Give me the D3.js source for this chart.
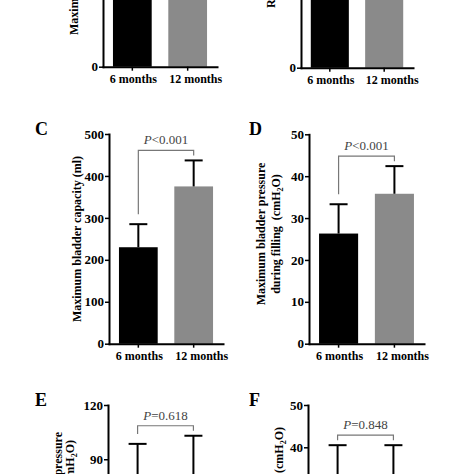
<!DOCTYPE html>
<html>
<head>
<meta charset="utf-8">
<script src="https://cdn.jsdelivr.net/npm/d3@7"></script>
<style>
body { margin: 0; background: #fff; }
svg text { font-family: "Liberation Serif", "Times New Roman", serif; }
</style>
</head>
<body>
<div id="chart"></div>
<script>
var groups = ["6 months", "12 months"];
var barColors = ["#000000", "#8a8a8a"];

// A and B: tops are cut off in the figure
var flowRateMean = [18, 19];
var flowRateSd = [5, 5];
var residualMean = [35, 37];
var residualSd = [10, 10];
// C: maximum bladder capacity (ml)
var capacityMean = [230, 375];
var capacitySd = [55, 62];
// D: maximum bladder pressure during filling
var fillPressureMean = [26.3, 35.8];
var fillPressureSd = [7.0, 6.6];
// E and F: bars sit below the crop, only the error caps show
var voidPressureMean = [72, 74];
var voidPressureSd = [26.5, 29];
var flowPressureMean = [29, 29];
var flowPressureSd = [11.5, 11.5];

var ticksA = [0, 10, 20, 30];
var ticksB = [0, 20, 40, 60];
var ticksC = [0, 100, 200, 300, 400, 500];
var ticksD = [0, 10, 20, 30, 40, 50];
var ticksE = [0, 30, 60, 90, 120];
var ticksF = [0, 10, 20, 30, 40, 50];

var pLabels = [null, null, "<0.001", "<0.001", "=0.618", "=0.848"];

// panel frames (pixel layout of the figure)
var panels = [
    { id: "A", mean: flowRateMean, sd: flowRateSd, ticks: ticksA, x0: 103, x1: 217, yBase: 66.7, yTop: -148.4,
      label: ["Maximum flow rate (ml/s)"], lx: [78], ly: [35], anchor: "start" },
    { id: "B", mean: residualMean, sd: residualSd, ticks: ticksB, x0: 301, x1: 413, yBase: 67.7, yTop: -150.4,
      label: ["Residual urine volume (ml)"], lx: [275], ly: [8], anchor: "start" },
    { id: "C", mean: capacityMean, sd: capacitySd, ticks: ticksC, x0: 109, x1: 223, yBase: 343.7, yTop: 134,
      label: ["Maximum bladder capacity (ml)"], lx: [81], ly: [239], anchor: "middle" },
    { id: "D", mean: fillPressureMean, sd: fillPressureSd, ticks: ticksD, x0: 309, x1: 424, yBase: 343.7, yTop: 134.3,
      label: ["Maximum bladder pressure", "during filling\u00a0 (cmH_2O)"], lx: [265, 280], ly: [234, 234], anchor: "middle" },
    { id: "E", mean: voidPressureMean, sd: voidPressureSd, ticks: ticksE, x0: 108, x1: 223, yBase: 622, yTop: 405,
      label: ["Maximum detrusor pressure", "during voiding (cmH_2O)"], lx: [62, 74], ly: [432, 440], anchor: "end" },
    { id: "F", mean: flowPressureMean, sd: flowPressureSd, ticks: ticksF, x0: 308, x1: 423, yBase: 616.5, yTop: 405,
      label: ["Detrusor pressure at maximum flow (cmH_2O)"], lx: [283], ly: [427], anchor: "end" }
];
var letterX = [35, 249];
var xLabelShift = [1, 8];

var svg = d3.select("#chart").append("svg")
    .attr("width", 474)
    .attr("height", 474)
    .style("display", "block");

svg.append("rect").attr("width", 474).attr("height", 474).attr("fill", "#fff");

// writes text with "_2" turned into a subscript 2
function addRich(sel, str) {
    var parts = str.split("_2");
    parts.forEach(function (p, i) {
        if (i > 0) {
            sel.append("tspan").attr("font-size", "8px").attr("dy", 3).text("2");
            sel.append("tspan").attr("dy", -3).text(p);
        } else {
            sel.append("tspan").text(p);
        }
    });
}

panels.forEach(function (p, pi) {
    var g = svg.append("g");
    var x = d3.scaleBand()
        .domain(groups)
        .range([p.x0, p.x1])
        .paddingInner(0.3)
        .paddingOuter(0.18);
    var y = d3.scaleLinear()
        .domain([0, d3.max(p.ticks)])
        .range([p.yBase, p.yTop]);

    // bars
    g.selectAll(".bar")
        .data(groups)
        .enter().append("rect")
        .attr("x", function (d) { return x(d); })
        .attr("width", x.bandwidth())
        .attr("y", function (d, i) { return y(p.mean[i]); })
        .attr("height", function (d, i) { return p.yBase - y(p.mean[i]); })
        .attr("fill", function (d, i) { return barColors[i]; });

    // error bars (upper only)
    groups.forEach(function (d, i) {
        var cx = x(d) + x.bandwidth() / 2;
        var top = y(p.mean[i] + p.sd[i]);
        g.append("line")
            .attr("x1", cx).attr("x2", cx)
            .attr("y1", y(p.mean[i])).attr("y2", top)
            .attr("stroke", "#000").attr("stroke-width", 2);
        g.append("line")
            .attr("x1", cx - 9).attr("x2", cx + 9)
            .attr("y1", top).attr("y2", top)
            .attr("stroke", "#000").attr("stroke-width", 2);
    });

    // y axis
    var ya = g.append("g")
        .attr("transform", "translate(" + p.x0 + ",0)")
        .call(d3.axisLeft(y).tickValues(p.ticks).tickSize(4).tickSizeOuter(0).tickPadding(1));
    // x axis
    var xa = g.append("g")
        .attr("transform", "translate(0," + p.yBase + ")")
        .call(d3.axisBottom(x).tickSize(4).tickSizeOuter(0).tickPadding(4));
    xa.selectAll(".tick text").attr("dx", function (d, i) { return xLabelShift[i]; });

    [ya, xa].forEach(function (a, ai) {
        a.select(".domain").attr("stroke-width", 2).attr("stroke-linecap", "square");
        a.selectAll(".tick line").attr("stroke-width", 1.5);
        a.selectAll("text")
            .attr("font-family", "Liberation Serif, serif")
            .attr("font-weight", "bold")
            .attr("font-size", ai === 0 ? "13px" : "12px")
            .attr("fill", "#000");
    });

    // axis title
    p.label.forEach(function (line, li) {
        var t = g.append("text")
            .attr("transform", "translate(" + p.lx[li] + "," + p.ly[li] + ") rotate(-90)")
            .attr("text-anchor", p.anchor)
            .attr("font-weight", "bold")
            .attr("font-size", "12px");
        addRich(t, line);
    });

    // panel letter
    g.append("text")
        .attr("x", letterX[pi % 2])
        .attr("y", p.yTop + 1)
        .attr("font-weight", "bold")
        .attr("font-size", "18px")
        .text(p.id);

    // significance bracket
    if (pLabels[pi]) {
        var cx0 = x(groups[0]) + x.bandwidth() / 2;
        var cx1 = x(groups[1]) + x.bandwidth() / 2;
        var caps = p.mean.map(function (m, i) { return y(m + p.sd[i]); });
        var by = d3.min(caps) - 10;
        var legs = caps.map(function (c) { return Math.max(by + 5, c - 10); });
        g.append("path")
            .attr("d", "M" + cx0 + "," + legs[0] + "V" + by + "H" + cx1 + "V" + legs[1])
            .attr("fill", "none")
            .attr("stroke", "#777")
            .attr("stroke-width", 1.2);
        var pt = g.append("text")
            .attr("x", (cx0 + cx1) / 2)
            .attr("y", by - 6)
            .attr("text-anchor", "middle")
            .attr("font-size", "13px")
            .attr("fill", "#444");
        pt.append("tspan").attr("font-style", "italic").text("P");
        pt.append("tspan").text(pLabels[pi]);
    }
});
</script>
</body>
</html>
